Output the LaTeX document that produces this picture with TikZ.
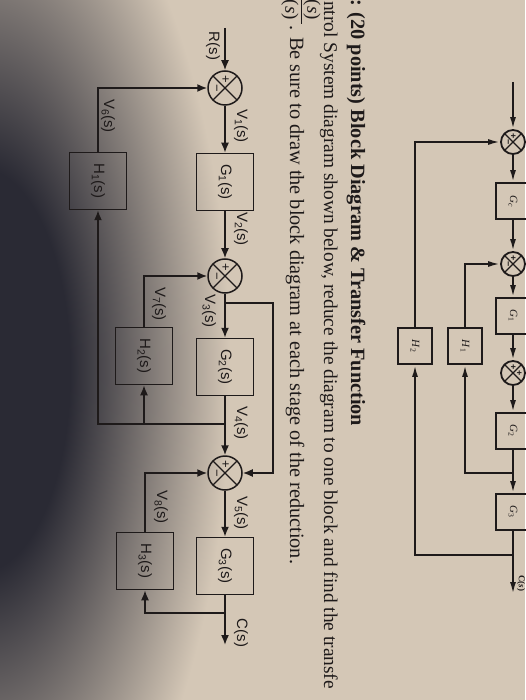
\documentclass[tikz,border=0pt]{standalone}
\usepackage{fontspec}
\setmainfont{Liberation Serif}
\setsansfont{Liberation Sans}
\usepackage{graphicx}
\usetikzlibrary{arrows.meta}
\definecolor{paper}{RGB}{212,199,182}
\definecolor{shadow}{RGB}{42,42,52}
\definecolor{ink}{RGB}{30,26,26}
\pgfdeclareradialshading{sideshadow}{\pgfpoint{0bp}{0bp}}{color(0bp)=(shadow); color(9bp)=(shadow); color(25bp)=(paper); color(50bp)=(paper)}
\newcommand{\rt}[1]{\rotatebox{-90}{#1}}

\begin{document}
\begin{tikzpicture}[x=1pt,y=-1pt,ink,
  blk/.style={draw,line width=1.5pt,minimum width=57pt,minimum height=57pt,inner sep=0pt,font=\sffamily\fontsize{15}{15}\selectfont},
  sumj/.style={draw,circle,line width=1.5pt,minimum size=34pt,inner sep=0pt,
    path picture={\draw[line width=1.2pt] (path picture bounding box.north west) -- (path picture bounding box.south east)
      (path picture bounding box.north east) -- (path picture bounding box.south west);}},
  lbl/.style={rotate=-90,inner sep=0pt,font=\sffamily\fontsize{15}{15}\selectfont},
  sgn/.style={rotate=-90,inner sep=0pt,font=\sffamily\fontsize{13}{13}\selectfont},
  sig/.style={line width=1.6pt,-{Latex[length=10pt,width=8pt]}},
  sblk/.style={draw,line width=1.8pt,minimum width=34pt,minimum height=36pt,inner sep=0pt,font=\fontsize{11}{11}\selectfont},
  ssum/.style={draw,circle,line width=1.8pt,minimum size=24pt,inner sep=0pt,
    path picture={\draw[line width=1.3pt] (path picture bounding box.north west) -- (path picture bounding box.south east)
      (path picture bounding box.north east) -- (path picture bounding box.south west);}},
  ssgn/.style={rotate=-90,inner sep=0pt,font=\sffamily\bfseries\fontsize{9}{9}\selectfont},
  sig2/.style={line width=2pt,-{Latex[length=12pt,width=6pt]}},
  txt/.style={rotate=-90,anchor=base west,inner sep=0pt,font=\fontsize{20.3}{20}\selectfont}]

\useasboundingbox (0,0) rectangle (525,700);
\fill[paper] (0,0) rectangle (525,700);
\begin{scope}
\clip (0,0) rectangle (525,700);
\shade[shading=sideshadow] (-20,370) ellipse [x radius=250, y radius=560];
\end{scope}

%-------------------------------------
\node[txt,font=\bfseries\fontsize{20.3}{20}\selectfont] (q1) at (351,-1) {: (20 points) Block Diagram \& Transfer Function};
\node[txt,font=\fontsize{19.4}{20}\selectfont] (q2) at (324,1) {ntrol System diagram shown below, reduce the diagram to one block and find the transfe};
\node[rotate=-90,inner sep=0pt,font=\fontsize{19}{19}\selectfont] (num) at (312,10) {(\textit{s})};
\node[rotate=-90,inner sep=0pt,font=\fontsize{19}{19}\selectfont] (den) at (290,10) {(\textit{s})};
\draw[line width=0.9pt] (301,0) -- (301,24);
\node[txt] (q3) at (290,25) {. Be sure to draw the block diagram at each stage of the reduction.};

%-------------------------------------
\node[sumj] (s1) at (225,88) {};
\node[blk] (g1) at (225,182) {\rt{G\textsubscript{1}(s)}};
\node[sumj] (s2) at (225,276) {};
\node[blk] (g2) at (225,367) {\rt{G\textsubscript{2}(s)}};
\node[sumj] (s3) at (225,473) {};
\node[blk] (g3) at (225,566) {\rt{G\textsubscript{3}(s)}};
\node[blk] (h1) at (98,181) {\rt{H\textsubscript{1}(s)}};
\node[blk] (h2) at (144,356) {\rt{H\textsubscript{2}(s)}};
\node[blk] (h3) at (145,561) {\rt{H\textsubscript{3}(s)}};

\node[sgn] (p1) at (225,79) {+};
\node[sgn] (m1) at (215,88) {−};
\node[sgn] (p2) at (225,267) {+};
\node[sgn] (m2) at (215,276) {−};
\node[sgn] (p3) at (225,464) {+};
\node[sgn] (m3) at (215,473) {−};

\coordinate (rin) at (225,28);
\coordinate (cout) at (225,645);
\coordinate (t3) at (225,303);
\coordinate (ff) at (273,303);
\coordinate (t4) at (225,424);
\coordinate (t6) at (225,613);

\draw[sig] (rin) -- (s1);
\draw[sig] (s1) -- (g1);
\draw[sig] (g1) -- (s2);
\draw[sig] (s2) -- (g2);
\draw[sig] (g2) -- (s3);
\draw[sig] (s3) -- (g3);
\draw[sig] (g3) -- (cout);
\draw[sig] (t4) -| (h1);
\draw[sig] (h1) |- (s1);
\draw[sig] (h2 |- t4) -- (h2);
\draw[sig] (h2) |- (s2);
\draw[sig] (t3) -- (ff) |- (s3);
\draw[sig] (t6) -| (h3);
\draw[sig] (h3) |- (s3);

\node[lbl] (lr) at (213,46) {R(s)};
\node[lbl] (lv1) at (241,126) {V\textsubscript{1}(s)};
\node[lbl] (lv2) at (241,229) {V\textsubscript{2}(s)};
\node[lbl] (lv3) at (209,311) {V\textsubscript{3}(s)};
\node[lbl] (lv4) at (241,423) {V\textsubscript{4}(s)};
\node[lbl] (lv5) at (241,513) {V\textsubscript{5}(s)};
\node[lbl] (lv6) at (108,116) {V\textsubscript{6}(s)};
\node[lbl] (lv7) at (159,304) {V\textsubscript{7}(s)};
\node[lbl] (lv8) at (161,507) {V\textsubscript{8}(s)};
\node[lbl] (lc) at (241,633) {C(s)};

%-------------------------------------
\node[ssum] (a1) at (513,142) {};
\node[sblk] (gc) at (513,201) {\rt{\textit{G}\textsubscript{\textit{c}}}};
\node[ssum] (a2) at (513,264) {};
\node[sblk] (ga1) at (513,316) {\rt{\textit{G}\textsubscript{1}}};
\node[ssum] (a3) at (513,373) {};
\node[sblk] (ga2) at (513,431) {\rt{\textit{G}\textsubscript{2}}};
\node[sblk] (ga3) at (513,512) {\rt{\textit{G}\textsubscript{3}}};
\node[sblk] (ha1) at (465,346) {\rt{\textit{H}\textsubscript{1}}};
\node[sblk] (ha2) at (415,346) {\rt{\textit{H}\textsubscript{2}}};

\node[ssgn] (pa1) at (513,136) {+};
\node[ssgn] (ma1) at (507,142) {−};
\node[ssgn] (pa2) at (513,258) {+};
\node[ssgn] (ma2) at (507,264) {−};
\node[ssgn] (pa3) at (513,367) {+};
\node[ssgn] (pb3) at (519,373) {+};

\coordinate (rin2) at (513,82);
\coordinate (cout2) at (513,594);
\coordinate (u1) at (513,473);
\coordinate (u2) at (513,555);

\draw[sig2] (rin2) -- (a1);
\draw[sig2] (a1) -- (gc);
\draw[sig2] (gc) -- (a2);
\draw[sig2] (a2) -- (ga1);
\draw[sig2] (ga1) -- (a3);
\draw[sig2] (a3) -- (ga2);
\draw[sig2] (ga2) -- (ga3);
\draw[sig2] (ga3) -- (cout2);
\draw[sig2] (ha2) |- (a1);
\draw[sig2] (ha1) |- (a2);
\draw[sig2] (u1) -| (ha1);
\draw[sig2] (u2) -| (ha2);

\node[rotate=-90,inner sep=0pt,font=\bfseries\fontsize{9}{9}\selectfont] (lc2) at (521,583) {C(\textit{s})};
\end{tikzpicture}
\end{document}
